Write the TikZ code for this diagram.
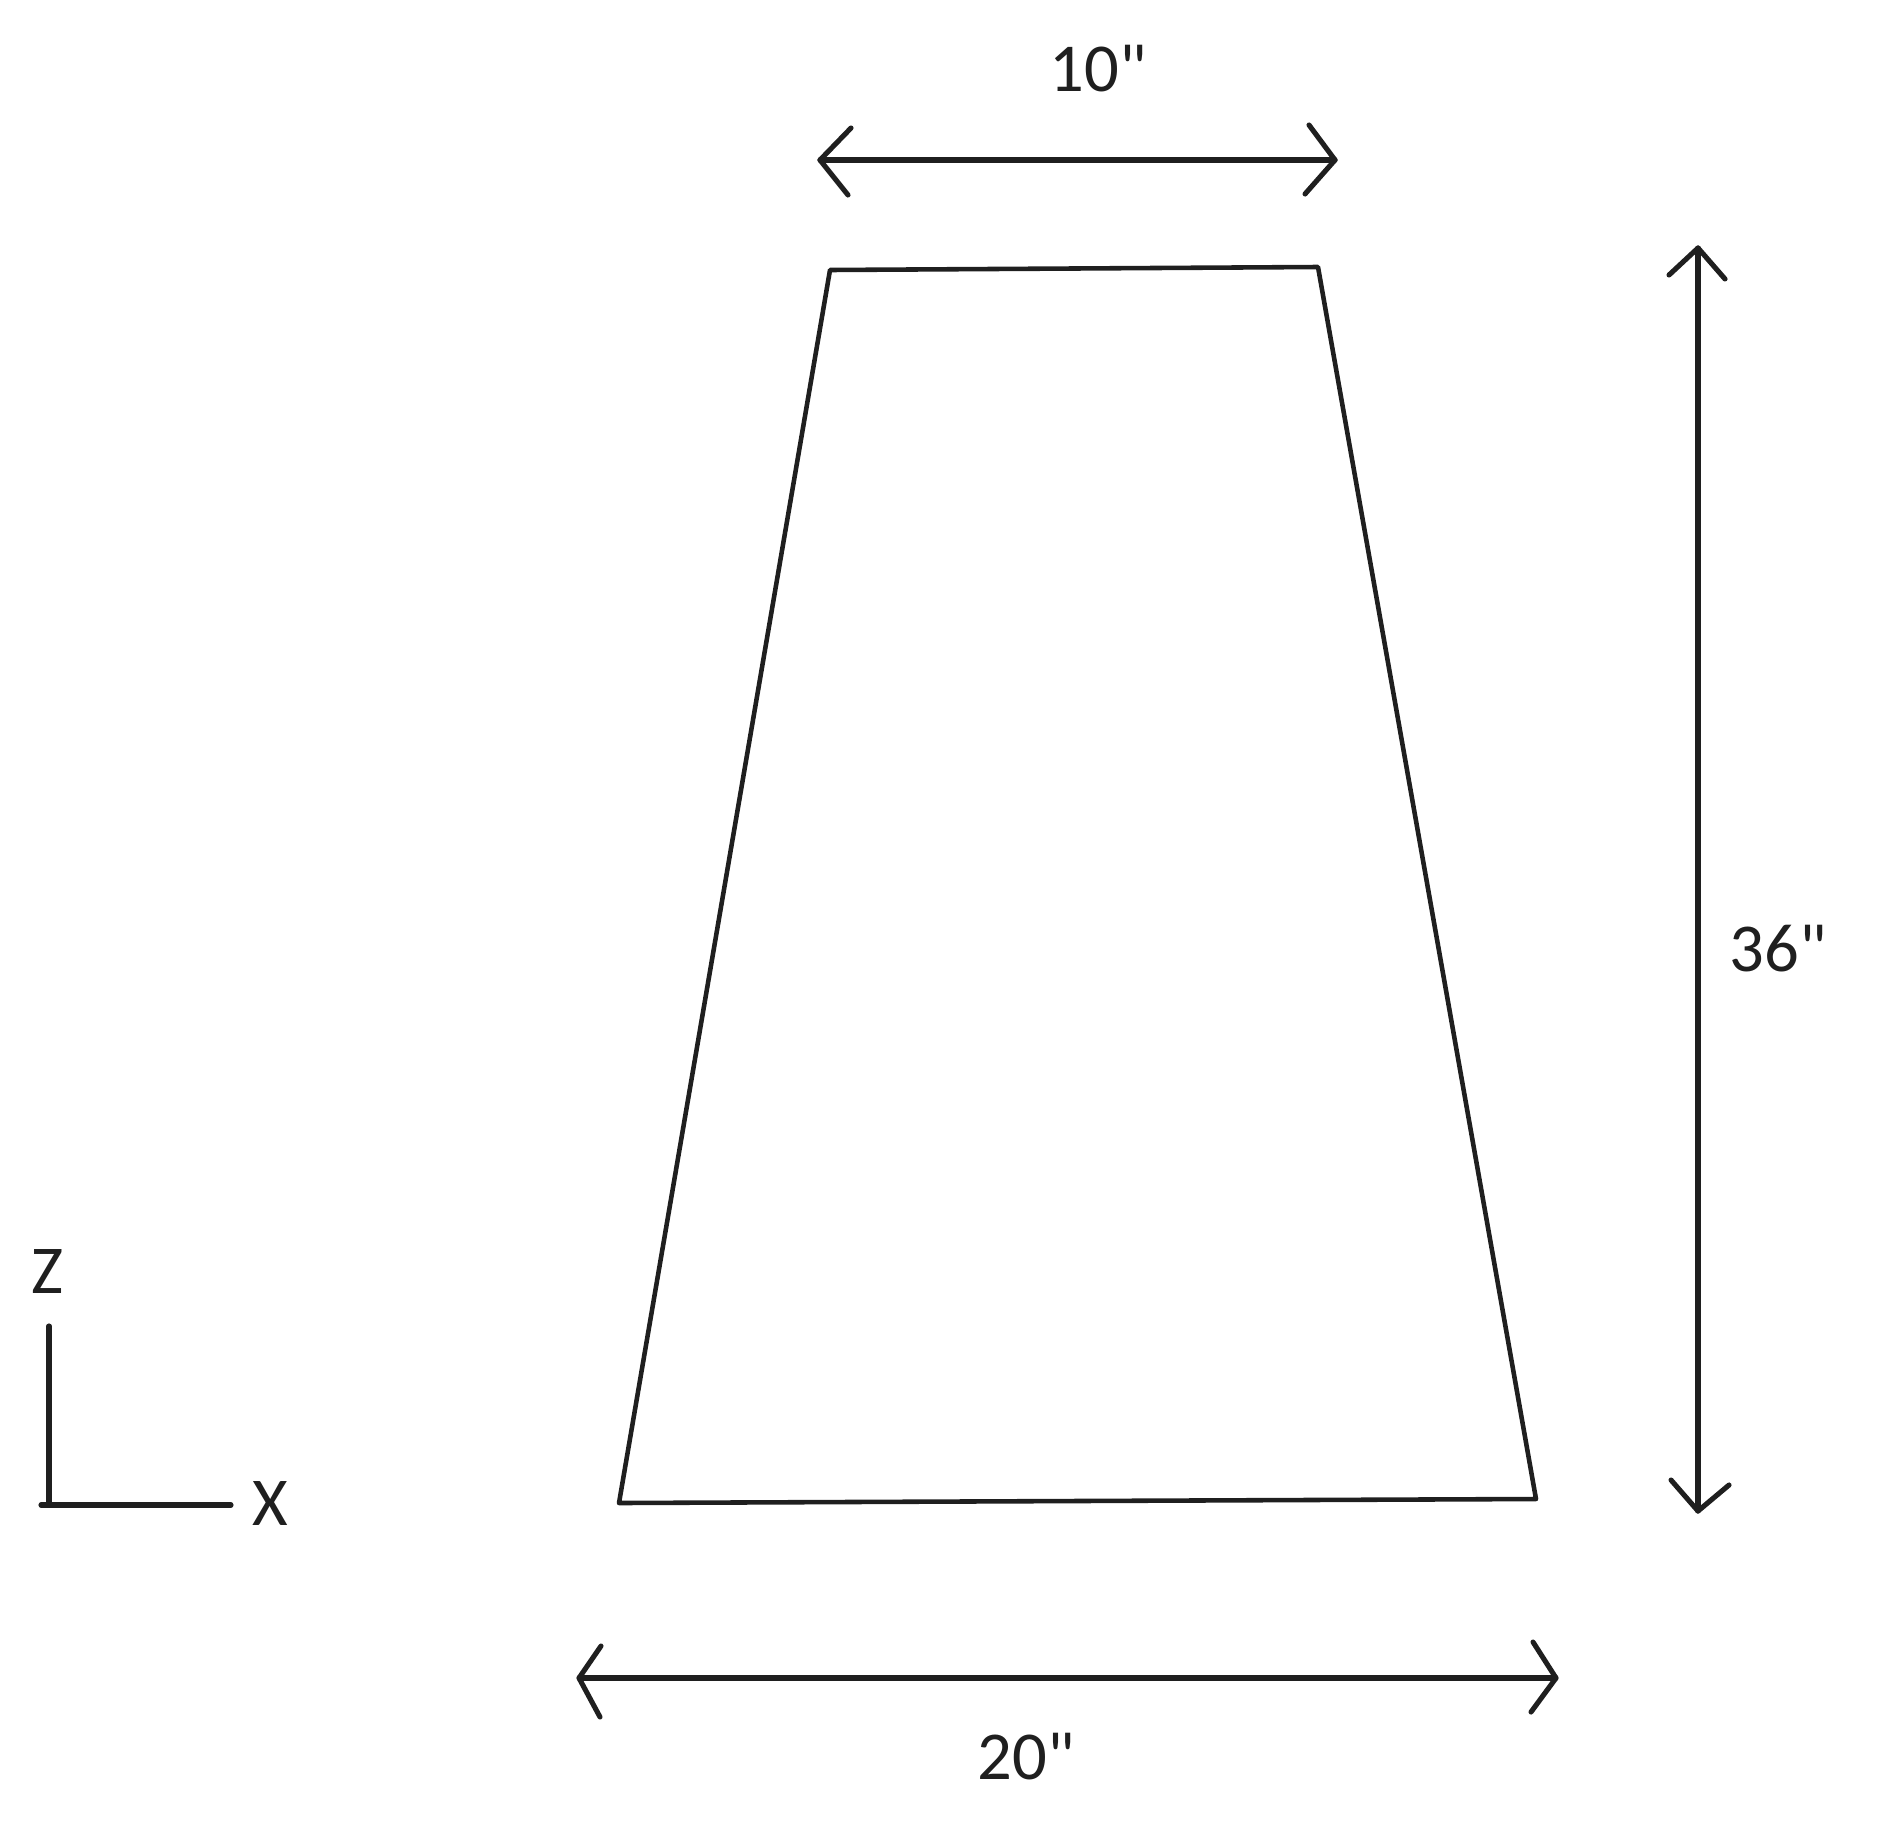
\documentclass[tikz,border=0pt]{standalone}
\usepackage{fontspec}
\setmainfont{Carlito}[Ligatures=TeXOff]
\newcommand{\inch}{\char34\relax}
\begin{document}
\begin{tikzpicture}[x=0.01cm,y=-0.01cm,
  ink/.style={draw=black!88,line width=1.45pt,line cap=round,line join=round},
  lbl/.style={font=\fontsize{19.5pt}{22pt}\selectfont,text=black!88,inner sep=0pt}]
\useasboundingbox (0,0) rectangle (1888,1827);
% trapezoid
\coordinate (tl) at (830,270);
\coordinate (tr) at (1318,267);
\coordinate (br) at (1536,1499);
\coordinate (bl) at (619,1503);
\draw[ink,line width=1.3pt] (tl) -- (tr) -- (br) -- (bl) -- cycle;
% top dimension
\coordinate (ta) at (820,160);
\coordinate (tb) at (1335,160);
\draw[ink] (ta) -- (tb);
\draw[ink] (851,128) -- (ta) -- (848,195);
\draw[ink] (1309,125) -- (tb) -- (1305,194);
\node[lbl] (t10) at (1098,69) {10\inch};
% right dimension
\coordinate (ra) at (1698,248);
\coordinate (rb) at (1698,1511);
\draw[ink] (ra) -- (rb);
\draw[ink] (1669,275) -- (ra) -- (1725,279);
\draw[ink] (1671,1480) -- (rb) -- (1729,1485);
\node[lbl] (t36) at (1778,949) {36\inch};
% bottom dimension
\coordinate (ba) at (579,1678);
\coordinate (bb) at (1556,1678);
\draw[ink] (ba) -- (bb);
\draw[ink] (601,1646) -- (ba) -- (600,1717);
\draw[ink] (1533,1642) -- (bb) -- (1531,1712);
\node[lbl] (t20) at (1026,1757) {20\inch};
% axes
\coordinate (ax0) at (49,1505);
\coordinate (axz) at (49,1326);
\coordinate (axx) at (231,1505);
\draw[ink] (axz) -- (ax0);
\draw[ink] (41,1505) -- (axx);
\node[lbl] (lz) at (48,1271) {Z};
\node[lbl] (lx) at (270,1503) {X};
\end{tikzpicture}
\end{document}
